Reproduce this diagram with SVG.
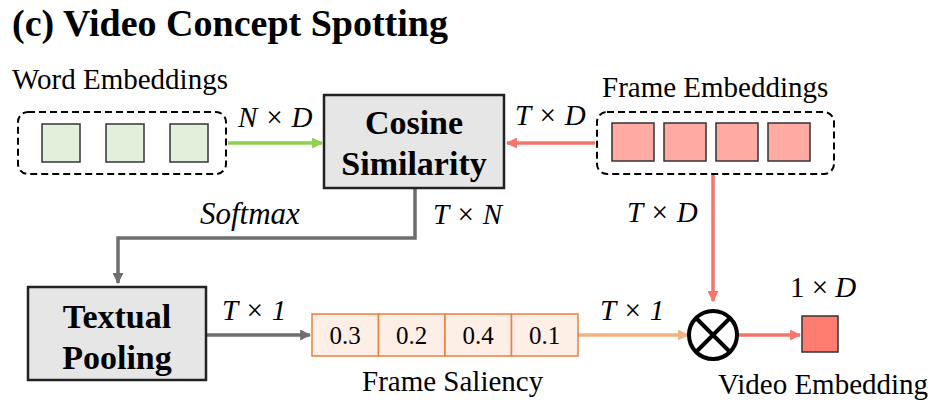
<svg xmlns="http://www.w3.org/2000/svg" width="935" height="404" viewBox="0 0 935 404" font-family="'Liberation Serif', 'Times New Roman', serif">
<style>
text{font-family:"Liberation Serif","Times New Roman",serif;fill:#000}
.t{font-size:29px}
.i{font-size:29px;font-style:italic}
.b{font-size:34px;font-weight:bold}
.dash{fill:none;stroke:#000;stroke-width:2;stroke-dasharray:7,4}
.g{fill:#e2efda;stroke:#333;stroke-width:1.5}
.p{fill:#ffaaa3;stroke:#333;stroke-width:1.5}
.box{fill:#e7e6e6;stroke:#222;stroke-width:2.5}
.s{fill:#fdeee6;stroke:#ef7d3b;stroke-width:1.5}
.n{font-size:25px}
</style>
<defs>
<marker id="ar" viewBox="0 0 10 10" refX="9" refY="5" markerWidth="11" markerHeight="11" orient="auto" markerUnits="userSpaceOnUse"><path d="M0,0L10,5L0,10z" fill="#f4756b"/></marker>
<marker id="agr" viewBox="0 0 10 10" refX="9" refY="5" markerWidth="11" markerHeight="11" orient="auto" markerUnits="userSpaceOnUse"><path d="M0,0L10,5L0,10z" fill="#6e6e6e"/></marker>
<marker id="ao" viewBox="0 0 10 10" refX="9" refY="5" markerWidth="11" markerHeight="11" orient="auto" markerUnits="userSpaceOnUse"><path d="M0,0L10,5L0,10z" fill="#f4b183"/></marker>
<marker id="agn" viewBox="0 0 10 10" refX="9" refY="5" markerWidth="11" markerHeight="11" orient="auto" markerUnits="userSpaceOnUse"><path d="M0,0L10,5L0,10z" fill="#8fd14f"/></marker>
</defs>
<text x="12" y="36" style="font-size:38px;font-weight:bold">(c) Video Concept Spotting</text>

<g id="connectors" fill="none" stroke-width="3.5">
<line x1="228" y1="143" x2="322" y2="143" stroke="#8fd14f" marker-end="url(#agn)"/>
<line x1="595" y1="143" x2="507" y2="143" stroke="#f4756b" marker-end="url(#ar)"/>
<path d="M713,174V301" stroke="#f4756b" marker-end="url(#ar)"/>
<path d="M415,189V238H118V283" stroke="#6e6e6e" marker-end="url(#agr)"/>
<line x1="207" y1="335" x2="310" y2="335" stroke="#6e6e6e" marker-end="url(#agr)"/>
<line x1="578" y1="335" x2="688" y2="335" stroke="#f4b183" marker-end="url(#ao)"/>
<line x1="738" y1="335" x2="800" y2="335" stroke="#f4756b" marker-end="url(#ar)"/>
</g>

<g id="word-embeddings">
<text x="12" y="89" class="t">Word Embeddings</text>
<rect x="18" y="112" width="208" height="62" rx="10" class="dash"/>
<rect x="42" y="124" width="38" height="38" class="g"/>
<rect x="106" y="124" width="38" height="38" class="g"/>
<rect x="170" y="124" width="38" height="38" class="g"/>
</g>
<text x="238" y="127" class="i">N × D</text>

<g id="cosine">
<rect x="324" y="95" width="180" height="93" class="box"/>
<text x="414" y="134" class="b" text-anchor="middle">Cosine</text>
<text x="414" y="175" class="b" text-anchor="middle">Similarity</text>
</g>
<text x="515" y="125" class="i">T × D</text>

<g id="frame-embeddings">
<text x="602" y="97" class="t">Frame Embeddings</text>
<rect x="597" y="112" width="237" height="62" rx="10" class="dash"/>
<rect x="612" y="123" width="42" height="38" class="p"/>
<rect x="664" y="123" width="42" height="38" class="p"/>
<rect x="716" y="123" width="42" height="38" class="p"/>
<rect x="768" y="123" width="42" height="38" class="p"/>
</g>
<text x="627" y="222" class="i">T × D</text>
<text x="200" y="224" class="i" style="font-size:31px">Softmax</text>
<text x="433" y="224" class="i">T × N</text>

<g id="textual-pooling">
<rect x="28" y="287" width="178" height="93" class="box"/>
<text x="117" y="328" class="b" text-anchor="middle">Textual</text>
<text x="117" y="369" class="b" text-anchor="middle">Pooling</text>
</g>
<text x="222" y="320" class="i">T × 1</text>

<g id="frame-saliency">
<rect x="312" y="314" width="66.5" height="42" class="s"/>
<rect x="378.5" y="314" width="66.5" height="42" class="s"/>
<rect x="445" y="314" width="66.5" height="42" class="s"/>
<rect x="511.5" y="314" width="66.5" height="42" class="s"/>
<text x="345" y="344" text-anchor="middle" class="n">0.3</text>
<text x="411.5" y="344" text-anchor="middle" class="n">0.2</text>
<text x="478" y="344" text-anchor="middle" class="n">0.4</text>
<text x="544.5" y="344" text-anchor="middle" class="n">0.1</text>
<text x="362" y="391" class="t">Frame Saliency</text>
</g>
<text x="600" y="320" class="i">T × 1</text>

<g id="multiply">
<circle cx="713" cy="335" r="24" fill="#fff" stroke="#000" stroke-width="4"/>
<path d="M696,318L730,352M730,318L696,352" stroke="#000" stroke-width="4"/>
</g>

<g id="video-embedding">
<text x="790" y="297" class="i"><tspan font-style="normal">1 × </tspan>D</text>
<rect x="802" y="316" width="36" height="36" fill="#ff7c70" stroke="#333" stroke-width="1.5"/>
<text x="718" y="394" class="t">Video Embedding</text>
</g>
</svg>
